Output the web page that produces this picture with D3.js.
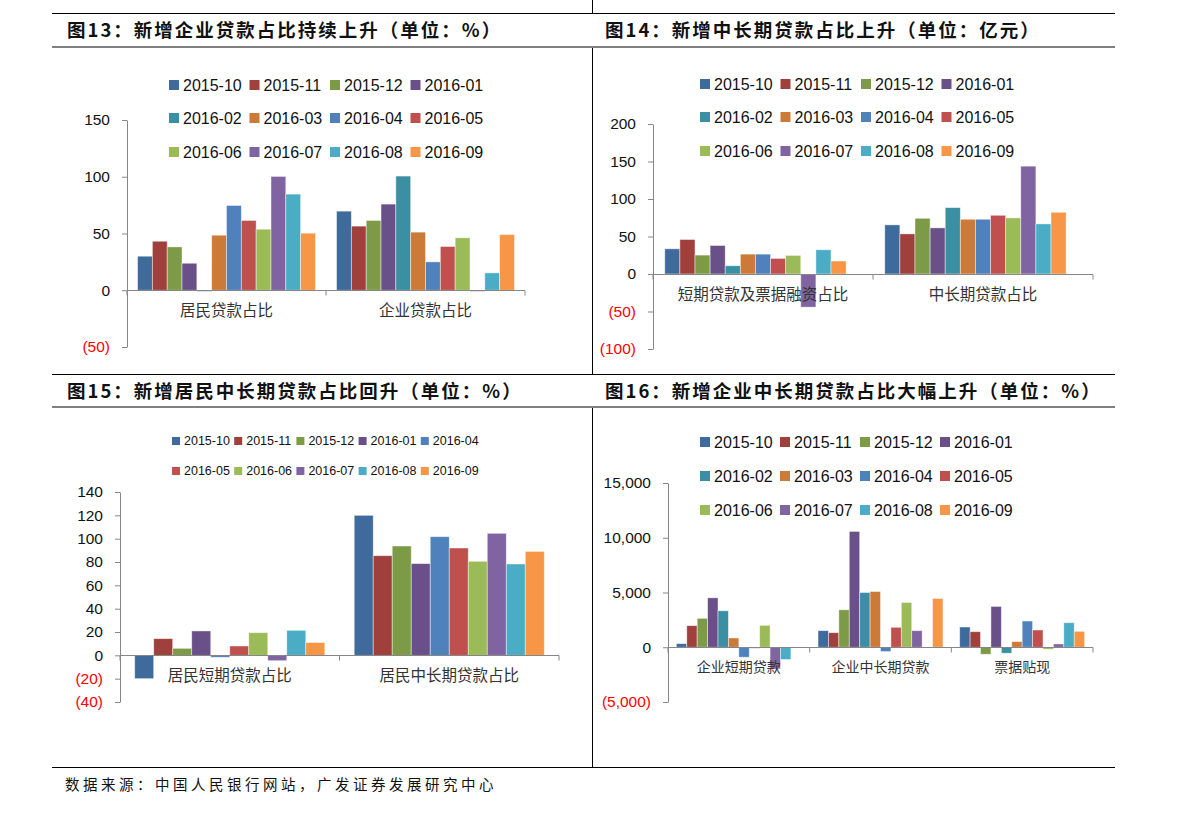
<!DOCTYPE html>
<html>
<head>
<meta charset="utf-8">
<script src="https://cdn.jsdelivr.net/npm/d3@7"></script>
<style>
body { margin: 0; background: #fff; }
text { font-family: "Liberation Sans", Arial, sans-serif; }
.cjk { font-family: "Noto Sans CJK SC", sans-serif; }
</style>
</head>
<body>
<svg id="chart" width="1191" height="813"></svg>
<script>
// months shared by all four charts, Excel 2007 style palette
var months = ["2015-10", "2015-11", "2015-12", "2016-01", "2016-02", "2016-03",
              "2016-04", "2016-05", "2016-06", "2016-07", "2016-08", "2016-09"];
var colors = ["#3F6B9C", "#A0403D", "#7D9A46", "#6A5088", "#3A8FA3", "#CC7A38",
              "#4F81BD", "#C0504D", "#9BBB59", "#8064A2", "#4BACC6", "#F79646"];

// 图13 (%)
var fig13Cats = ["居民贷款占比", "企业贷款占比"];
var fig13Household = [30, 43.2, 38.2, 23.8, -1, 48.5, 74.7, 61.5, 53.8, 100.3, 84.7, 50.3];
var fig13Corporate = [69.7, 56.5, 61.5, 75.9, 100.6, 51.2, 25, 38.5, 46.2, -1, 15.3, 49.1];
var fig13Ticks = [-50, 0, 50, 100, 150];

// 图14 (亿元 share)
var fig14Cats = ["短期贷款及票据融资占比", "中长期贷款占比"];
var fig14Short = [33.6, 46, 25.2, 38, 11, 26.5, 26.5, 20.8, 24.8, -44.2, 32.3, 17.3];
var fig14Long = [65.5, 53.5, 74.3, 61.5, 88.5, 73, 73, 78.3, 74.8, 143.8, 66.8, 82.3];
var fig14Ticks = [-100, -50, 0, 50, 100, 150, 200];

// 图15 (%), no 2016-02 / 2016-03
var fig15Series = [0, 1, 2, 3, 6, 7, 8, 9, 10, 11];
var fig15Cats = ["居民短期贷款占比", "居民中长期贷款占比"];
var fig15Short = [-20, 14.3, 6, 20.9, -1.7, 8, 19.4, -4.6, 21.4, 10.9];
var fig15Long = [120, 85.4, 93.7, 78.6, 101.7, 92, 80.6, 104.6, 78.3, 89.1];
var fig15Ticks = [-40, -20, 0, 20, 40, 60, 80, 100, 120, 140];

// 图16 (亿元)
var fig16Cats = ["企业短期贷款", "企业中长期贷款", "票据贴现"];
var fig16Short = [330, 1970, 2640, 4515, 3330, 850, -910, -90, 2000, -1980, -1120, 0];
var fig16Long = [1515, 1330, 3420, 10580, 5000, 5090, -390, 1820, 4090, 1515, -40, 4450];
var fig16Bills = [1850, 1420, -640, 3730, -545, 515, 2395, 1575, -180, 300, 2240, 1455];
var fig16Ticks = [-5000, 0, 5000, 10000, 15000];

var svg = d3.select("#chart");

function paren(f) {
	return function(d) { return d < 0 ? "(" + f(-d) + ")" : f(d); };
}

// frame lines
var black = [13.5, 374.5, 767.5], grey = [47, 407];
black.forEach(function(y) {
	svg.append("line").attr("x1", 52).attr("x2", 1115).attr("y1", y).attr("y2", y)
		.attr("stroke", "#000").attr("stroke-width", 1);
});
grey.forEach(function(y) {
	svg.append("line").attr("x1", 52).attr("x2", 1115).attr("y1", y).attr("y2", y)
		.attr("stroke", "#808080").attr("stroke-width", 2);
});
[[0, 13], [48, 374], [408, 767]].forEach(function(s) {
	svg.append("line").attr("x1", 592.5).attr("x2", 592.5).attr("y1", s[0]).attr("y2", s[1])
		.attr("stroke", "#000").attr("stroke-width", 1);
});

// source note
svg.append("text").attr("class", "cjk")
	.attr("x", 65).attr("y", 790)
	.style("font-size", "14.5px").style("letter-spacing", "3.5px").attr("fill", "#111")
	.text("数据来源：中国人民银行网站，广发证券发展研究中心");

var panels = [
	{
		title: "图13：新增企业贷款占比持续上升（单位：%）", tx: 67, ty: 37,
		cats: fig13Cats, values: [fig13Household, fig13Corporate], series: d3.range(12),
		domain: [-50, 150], ticks: fig13Ticks, fmt: paren(d3.format("d")),
		left: 127, right: 525, top: 120, bottom: 347, slots: 12, pad: 0.106,
		legX: 169, legStep: 80.5, legRows: [85, 118, 152], legCols: 4, sq: 10, legFont: 16,
		catFont: 15.5
	},
	{
		title: "图14：新增中长期贷款占比上升（单位：亿元）", tx: 605, ty: 37,
		cats: fig14Cats, values: [fig14Short, fig14Long], series: d3.range(12),
		domain: [-100, 200], ticks: fig14Ticks, fmt: paren(d3.format("d")),
		left: 653, right: 1093, top: 124, bottom: 349, slots: 13, pad: 0.107,
		legX: 700, legStep: 80.5, legRows: [84, 117, 151], legCols: 4, sq: 10, legFont: 16,
		catFont: 15.5
	},
	{
		title: "图15：新增居民中长期贷款占比回升（单位：%）", tx: 67, ty: 398,
		cats: fig15Cats, values: [fig15Short, fig15Long], series: fig15Series,
		domain: [-40, 140], ticks: fig15Ticks, fmt: paren(d3.format("d")),
		left: 120, right: 559, top: 492, bottom: 702, slots: 10, pad: 0.134,
		legX: 172, legStep: 62.2, legRows: [441, 471], legCols: 5, sq: 8, legFont: 12.5,
		catFont: 15.5
	},
	{
		title: "图16：新增企业中长期贷款占比大幅上升（单位：%）", tx: 605, ty: 398,
		cats: fig16Cats, values: [fig16Short, fig16Long, fig16Bills], series: d3.range(12),
		domain: [-5000, 15000], ticks: fig16Ticks, fmt: paren(d3.format(",")),
		left: 668, right: 1093, top: 483, bottom: 702, slots: 12, pad: 0.118,
		legX: 700, legStep: 80, legRows: [442, 476, 510], legCols: 4, sq: 10, legFont: 16,
		catFont: 14
	}
];

function drawPanel(p) {
	var g = svg.append("g");

	g.append("text").attr("class", "cjk")
		.attr("x", p.tx).attr("y", p.ty)
		.style("font-size", "18.5px").style("font-weight", "700").style("letter-spacing", "2px")
		.attr("fill", "#111")
		.text(p.title);

	var y = d3.scaleLinear().domain(p.domain).range([p.bottom, p.top]);
	var x0 = d3.scaleBand().domain(p.cats).range([p.left, p.right])
		.paddingInner(p.pad).paddingOuter(p.pad / 2);
	var x1 = d3.scaleBand().domain(d3.range(p.slots)).range([0, x0.bandwidth()]);

	var rows = [];
	p.cats.forEach(function(c, ci) {
		p.values[ci].forEach(function(v, k) {
			rows.push({cat: c, slot: k, color: colors[p.series[k]], v: v});
		});
	});

	g.selectAll("rect.bar").data(rows).join("rect")
		.attr("class", "bar")
		.attr("x", function(d) { return x0(d.cat) + x1(d.slot); })
		.attr("width", x1.bandwidth())
		.attr("y", function(d) { return y(Math.max(d.v, 0)); })
		.attr("height", function(d) { return Math.abs(y(d.v) - y(0)); })
		.attr("fill", function(d) { return d.color; })
		.attr("stroke", "rgba(255,255,255,0.55)")
		.attr("stroke-width", 0.8);

	// y axis
	var yaxis = d3.axisLeft(y).tickValues(p.ticks).tickSizeInner(5).tickSizeOuter(0)
		.tickPadding(12).tickFormat(p.fmt);
	var ya = g.append("g").attr("transform", "translate(" + p.left + ",0)").call(yaxis);
	ya.select(".domain").attr("stroke", "#868686");
	ya.selectAll(".tick line").attr("stroke", "#868686");
	ya.selectAll(".tick text")
		.style("font-size", "15.5px")
		.attr("fill", function(d) { return d < 0 ? "#FF0000" : "#111"; });

	// x axis at zero with category boundary ticks
	var y0 = Math.round(y(0)) + 0.5;
	g.append("line").attr("x1", p.left).attr("x2", p.right).attr("y1", y0).attr("y2", y0)
		.attr("stroke", "#868686");
	var step = x0.step();
	g.selectAll("line.ctick").data(d3.range(p.cats.length + 1)).join("line")
		.attr("class", "ctick")
		.attr("x1", function(k) { return p.left + k * step; })
		.attr("x2", function(k) { return p.left + k * step; })
		.attr("y1", y0).attr("y2", y0 + 5)
		.attr("stroke", "#868686");

	g.selectAll("text.cat").data(p.cats).join("text")
		.attr("class", "cat cjk")
		.attr("x", function(c) { return x0(c) + x0.bandwidth() / 2; })
		.attr("y", y0 + 21)
		.attr("text-anchor", "middle").attr("dominant-baseline", "middle")
		.style("font-size", p.catFont + "px")
		.attr("fill", "#333")
		.text(function(c) { return c; });

	// legend
	var leg = g.selectAll("g.leg").data(p.series).join("g")
		.attr("class", "leg")
		.attr("transform", function(s, k) {
			var col = k % p.legCols, row = Math.floor(k / p.legCols);
			return "translate(" + (p.legX + col * p.legStep) + "," + p.legRows[row] + ")";
		});
	leg.append("rect")
		.attr("x", 0).attr("y", -p.sq / 2).attr("width", p.sq).attr("height", p.sq)
		.attr("fill", function(s) { return colors[s]; });
	leg.append("text")
		.attr("x", p.sq + 4).attr("y", 0).attr("dominant-baseline", "central")
		.style("font-size", p.legFont + "px").attr("fill", "#111")
		.text(function(s) { return months[s]; });
}

panels.forEach(drawPanel);
</script>
</body>
</html>
